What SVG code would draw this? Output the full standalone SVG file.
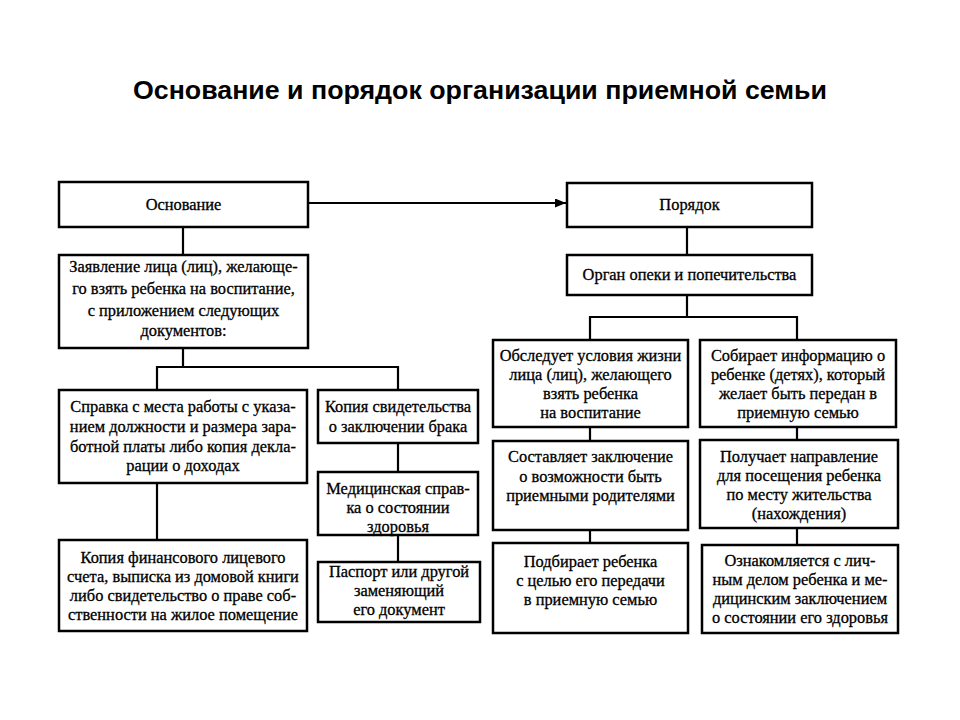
<svg xmlns="http://www.w3.org/2000/svg" width="960" height="720" viewBox="0 0 960 720">
<style>
.box{fill:#fff;stroke:#000;stroke-width:2.5}
.t{font-family:"Liberation Serif","Times New Roman",serif;font-size:16.4px;fill:#000;stroke:#000;stroke-width:0.3;text-anchor:middle}
.c{fill:none;stroke:#000;stroke-width:2.2}
.title{font-family:"Liberation Sans",Arial,sans-serif;font-size:26px;font-weight:bold;text-anchor:middle;fill:#000}
</style>
<defs>
<marker id="ah" markerWidth="11" markerHeight="9" refX="11" refY="4.5" orient="auto" markerUnits="userSpaceOnUse">
<path d="M0,0 L11,4.5 L0,9 Z" fill="#000"/>
</marker>
</defs>
<rect width="960" height="720" fill="#fff"/>
<text class="title" x="480" y="99" textLength="694" lengthAdjust="spacingAndGlyphs">Основание и порядок организации приемной семьи</text>

<g id="connectors">
<path class="c" d="M308,203 H566" marker-end="url(#ah)"/>
<path class="c" d="M183,227 V255"/>
<path class="c" d="M183,348 V367 M157,367 H398 M157,366 V390 M398,366 V390"/>
<path class="c" d="M398,443 V472"/>
<path class="c" d="M398,535 V562"/>
<path class="c" d="M157,483 V540"/>
<path class="c" d="M687,227 V255"/>
<path class="c" d="M687,295 V317 M590,317 H797 M590,316 V340 M797,316 V340"/>
<path class="c" d="M590,427 V441 M590,530 V543"/>
<path class="c" d="M797,427 V440 M797,528 V545"/>
</g>

<g id="osnovanie"><rect class="box" x="59" y="182" width="249" height="45"/>
<text class="t" x="183.5" y="210">Основание</text></g>

<g id="zayavlenie"><rect class="box" x="59" y="255" width="249" height="93"/>
<text class="t" x="183.5" y="272">Заявление лица (лиц), желающе-</text>
<text class="t" x="183.5" y="294">го взять ребенка на воспитание,</text>
<text class="t" x="183.5" y="316">с приложением следующих</text>
<text class="t" x="183.5" y="336">документов:</text></g>

<g id="spravka"><rect class="box" x="59" y="390" width="248" height="93"/>
<text class="t" x="183" y="412">Справка с места работы с указа-</text>
<text class="t" x="183" y="432">нием должности и размера зара-</text>
<text class="t" x="183" y="452">ботной платы либо копия декла-</text>
<text class="t" x="183" y="471">рации о доходах</text></g>

<g id="kopiya-svid"><rect class="box" x="318" y="390" width="160" height="53"/>
<text class="t" x="398" y="412">Копия свидетельства</text>
<text class="t" x="398" y="432">о заключении брака</text></g>

<g id="medspravka"><rect class="box" x="318" y="472" width="160" height="63"/>
<text class="t" x="398" y="494">Медицинская справ-</text>
<text class="t" x="398" y="513">ка о состоянии</text>
<text class="t" x="398" y="532">здоровья</text></g>

<g id="kopiya-fin"><rect class="box" x="59" y="540" width="248" height="91"/>
<text class="t" x="183" y="563">Копия финансового лицевого</text>
<text class="t" x="183" y="582">счета, выписка из домовой книги</text>
<text class="t" x="183" y="601">либо свидетельство о праве соб-</text>
<text class="t" x="183" y="620">ственности на жилое помещение</text></g>

<g id="pasport"><rect class="box" x="318" y="562" width="162" height="60"/>
<text class="t" x="399" y="577">Паспорт или другой</text>
<text class="t" x="399" y="596">заменяющий</text>
<text class="t" x="399" y="615">его документ</text></g>

<g id="poryadok"><rect class="box" x="567" y="183" width="245" height="44"/>
<text class="t" x="689.5" y="210">Порядок</text></g>

<g id="organ"><rect class="box" x="567" y="255" width="245" height="40"/>
<text class="t" x="689.5" y="280">Орган опеки и попечительства</text></g>

<g id="obsleduet"><rect class="box" x="493" y="340" width="195" height="87"/>
<text class="t" x="590.5" y="361">Обследует условия жизни</text>
<text class="t" x="590.5" y="380">лица (лиц), желающего</text>
<text class="t" x="590.5" y="399">взять ребенка</text>
<text class="t" x="590.5" y="418">на воспитание</text></g>

<g id="sobiraet"><rect class="box" x="700" y="340" width="196" height="87"/>
<text class="t" x="798" y="361">Собирает информацию о</text>
<text class="t" x="798" y="380">ребенке (детях), который</text>
<text class="t" x="798" y="399">желает быть передан в</text>
<text class="t" x="798" y="418">приемную семью</text></g>

<g id="sostavlyaet"><rect class="box" x="493" y="441" width="195" height="89"/>
<text class="t" x="590.5" y="462">Составляет заключение</text>
<text class="t" x="590.5" y="482">о возможности быть</text>
<text class="t" x="590.5" y="501">приемными родителями</text></g>

<g id="poluchaet"><rect class="box" x="700" y="440" width="198" height="88"/>
<text class="t" x="799" y="462">Получает направление</text>
<text class="t" x="799" y="481">для посещения ребенка</text>
<text class="t" x="799" y="500">по месту жительства</text>
<text class="t" x="799" y="519">(нахождения)</text></g>

<g id="podbiraet"><rect class="box" x="493" y="543" width="195" height="90"/>
<text class="t" x="590.5" y="567">Подбирает ребенка</text>
<text class="t" x="590.5" y="586">с целью его передачи</text>
<text class="t" x="590.5" y="605">в приемную семью</text></g>

<g id="oznakomlyaetsya"><rect class="box" x="702" y="545" width="196" height="88"/>
<text class="t" x="800" y="566">Ознакомляется с лич-</text>
<text class="t" x="800" y="585">ным делом ребенка и ме-</text>
<text class="t" x="800" y="604">дицинским заключением</text>
<text class="t" x="800" y="623">о состоянии его здоровья</text></g>
</svg>
